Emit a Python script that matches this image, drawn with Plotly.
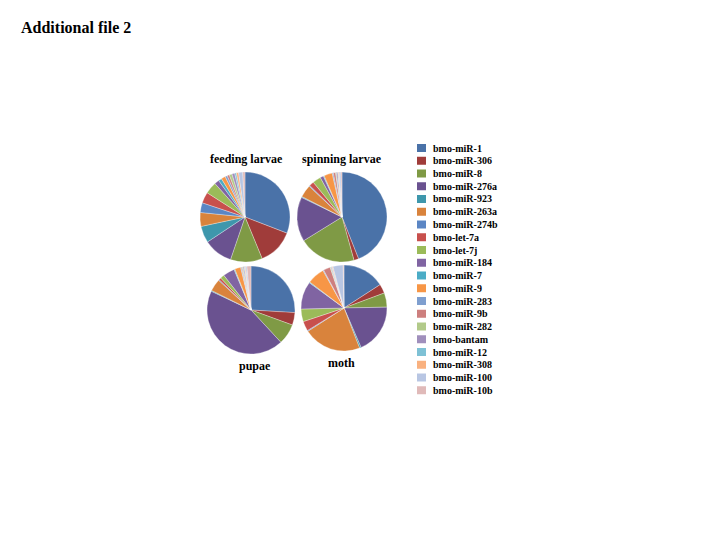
import plotly.graph_objects as go

mirnas = ["bmo-miR-1", "bmo-miR-306", "bmo-miR-8", "bmo-miR-276a", "bmo-miR-923",
          "bmo-miR-263a", "bmo-miR-274b", "bmo-let-7a", "bmo-let-7j", "bmo-miR-184",
          "bmo-miR-7", "bmo-miR-9", "bmo-miR-283", "bmo-miR-9b", "bmo-miR-282",
          "bmo-bantam", "bmo-miR-12", "bmo-miR-308", "bmo-miR-100", "bmo-miR-10b"]

colors = ["#4A72A8", "#A03C3A", "#7F9A45", "#6A5290", "#3E97AC",
          "#D9833C", "#5B86C4", "#C8504D", "#9BBB59", "#8064A2",
          "#4BACC6", "#F79646", "#7F9FCF", "#CD7F7E", "#B2CA8A",
          "#A08FBC", "#7EC1D5", "#F9B17F", "#B8C6E3", "#E0BAB9"]

feeding_larvae = [31, 13, 11.5, 10.5, 6, 5, 3.5, 4, 4.3, 1.7,
                  1.2, 1.5, 0.8, 0.8, 1.0, 1.0, 0.6, 0.8, 1.5, 0.8]
spinning_larvae = [44, 1.7, 20.5, 16, 0.3, 4.5, 0.3, 1.7, 3, 1.2,
                   0.3, 3, 0.4, 0.8, 0.3, 0.5, 0.2, 0.3, 0.6, 0.4]
pupae = [26, 4.6, 7.6, 44, 0.3, 4.5, 0.3, 0.8, 1.5, 4.3,
         0.3, 2.2, 0.3, 0.3, 0.3, 0.4, 0.2, 0.3, 0.5, 1.5]
moth = [16, 3.5, 5.4, 19, 0.6, 22, 0.3, 3.7, 4.8, 10.5,
        0.3, 6.6, 0.3, 2.6, 0.3, 0.3, 0.2, 0.3, 3.9, 0.3]

stages = ["feeding larvae", "spinning larvae", "pupae", "moth"]
stage_values = [feeding_larvae, spinning_larvae, pupae, moth]

W, H = 720, 540
# pie centre (px) and radius (px)
pie_geom = [(245, 217, 45), (342, 217, 45), (251, 310, 44), (344, 308, 43)]
label_pos = [(246, 159), (342, 159), (255, 366), (341, 363)]

FONT = "Liberation Serif"

fig = go.Figure()
for name, vals, (cx, cy, r) in zip(stages, stage_values, pie_geom):
    fig.add_trace(go.Pie(
        labels=mirnas, values=vals, name=name,
        sort=False, direction="clockwise", rotation=0,
        marker=dict(colors=colors, line=dict(color="rgba(255,255,255,0.6)", width=0.5)),
        textinfo="none", hoverinfo="label+percent", showlegend=False,
        domain=dict(x=[(cx - r) / W, (cx + r) / W],
                    y=[1 - (cy + r) / H, 1 - (cy - r) / H]),
    ))

annotations = [dict(text="<b>Additional file 2</b>", x=19 / W, y=1 - 27 / H,
                    xref="paper", yref="paper", xanchor="left", yanchor="middle",
                    showarrow=False, font=dict(family=FONT, size=16, color="black"))]
for name, (lx, ly) in zip(stages, label_pos):
    annotations.append(dict(text="<b>" + name + "</b>", x=lx / W, y=1 - ly / H,
                            xref="paper", yref="paper", xanchor="center", yanchor="middle",
                            showarrow=False, font=dict(family=FONT, size=12, color="black")))

shapes = []
y0, dy = 148, 12.75
for i, (m, c) in enumerate(zip(mirnas, colors)):
    y = y0 + i * dy
    shapes.append(dict(type="rect", xref="paper", yref="paper",
                       x0=417 / W, x1=426 / W, y0=1 - (y + 4) / H, y1=1 - (y - 4) / H,
                       fillcolor=c, line=dict(width=0)))
    annotations.append(dict(text="<b>" + m + "</b>", x=431 / W, y=1 - y / H,
                            xref="paper", yref="paper", xanchor="left", yanchor="middle",
                            showarrow=False, font=dict(family=FONT, size=10, color="black")))

fig.update_layout(width=W, height=H, margin=dict(l=0, r=0, t=0, b=0),
                  paper_bgcolor="white", plot_bgcolor="white",
                  annotations=annotations, shapes=shapes, showlegend=False)

fig.write_html("out.html")
